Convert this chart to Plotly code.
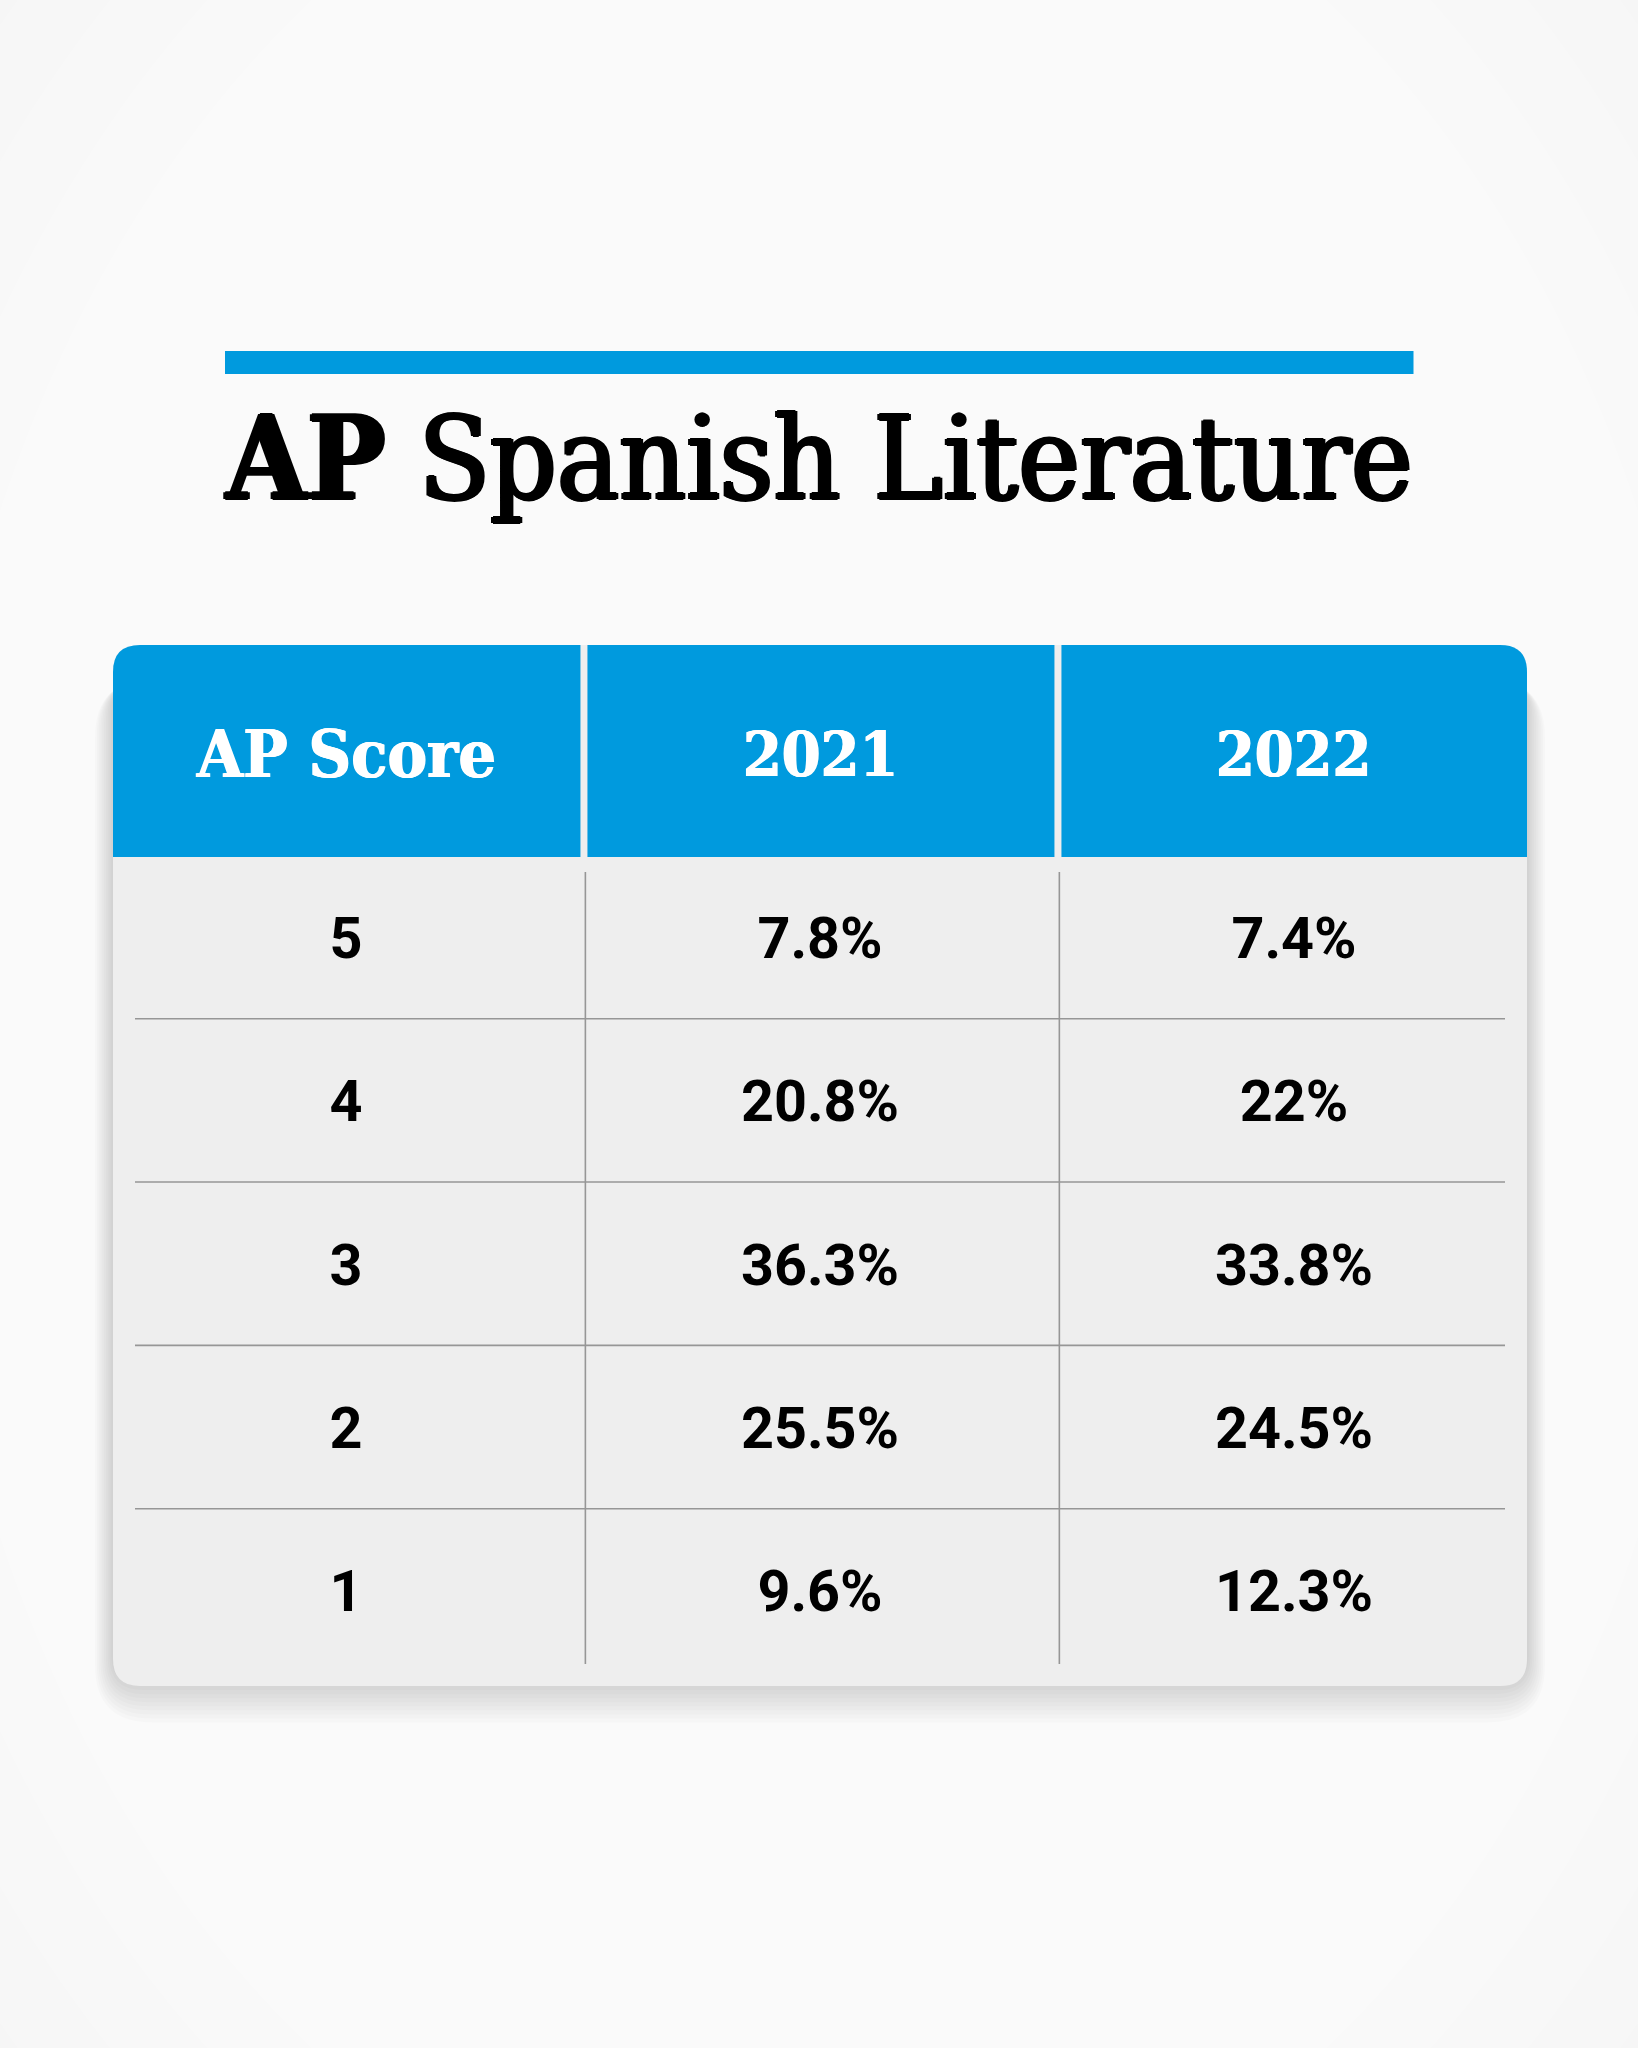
import plotly.graph_objects as go

W = 1638
H = 2048

columns = ['AP Score', '2021', '2022']
scores = ['5', '4', '3', '2', '1']
pct_2021 = ['7.8%', '20.8%', '36.3%', '25.5%', '9.6%']
pct_2022 = ['7.4%', '22%', '33.8%', '24.5%', '12.3%']

BLUE = '#009ade'
CARD = '#eeeeee'
LINE = '#969696'
SLAB = "'DejaVu Serif Condensed', 'DejaVu Serif', serif"


def px(x):
    return x / W


def py(y):
    return 1 - y / H


def rounded(x0, y0, x1, y1, r, top=True, bottom=True):
    # svg path in paper coords, corners as quadratic curves
    rx, ry = r / W, r / H
    X0, X1 = px(x0), px(x1)
    Y0, Y1 = py(y0), py(y1)
    path = f'M {X0} {Y0 - ry if top else Y0} '
    path += f'Q {X0} {Y0} {X0 + rx} {Y0} L {X1 - rx} {Y0} Q {X1} {Y0} {X1} {Y0 - ry} ' if top else f'L {X1} {Y0} '
    path += f'L {X1} {Y1 + ry if bottom else Y1} '
    path += f'Q {X1} {Y1} {X1 - rx} {Y1} L {X0 + rx} {Y1} Q {X0} {Y1} {X0} {Y1 + ry} ' if bottom else f'L {X0} {Y1} '
    return path + 'Z'


shapes = []

# pale vignette, white toward the middle of the page
for grow in range(0, 11):
    rx = 1180 - grow * 70
    ry = 1560 - grow * 80
    shapes.append(dict(type='circle', xref='paper', yref='paper', layer='below',
                       x0=px(819 - rx), x1=px(819 + rx), y0=py(1024 + ry), y1=py(1024 - ry),
                       fillcolor='rgba(255,255,255,0.16)', line_width=0))

# soft shadow under the card
for grow in range(30, 0, -3):
    shapes.append(dict(type='path', xref='paper', yref='paper', layer='below',
                       path=rounded(113 - grow * 0.6, 680, 1527 + grow * 0.6, 1682 + grow * 1.35, 27 + grow),
                       fillcolor='rgba(0,0,0,0.015)', line_width=0))

shapes.append(dict(type='path', xref='paper', yref='paper', layer='below',
                   path=rounded(113, 645, 1527, 1686, 27), fillcolor=CARD, line_width=0))
shapes.append(dict(type='path', xref='paper', yref='paper', layer='below',
                   path=rounded(113, 645, 1527, 857, 27, bottom=False), fillcolor=BLUE, line_width=0))
# bar above the title
shapes.append(dict(type='rect', xref='paper', yref='paper', layer='below',
                   x0=px(225), x1=px(1413.5), y0=py(351), y1=py(374), fillcolor=BLUE, line_width=0))

# header separators and column rules
for i in range(len(columns) - 1):
    shapes.append(dict(type='line', xref='x', yref='paper', x0=i + 0.502, x1=i + 0.502, y0=py(645), y1=py(857),
                       line=dict(color=CARD, width=7), layer='below'))
    shapes.append(dict(type='line', xref='x', yref='paper', x0=i + 0.505, x1=i + 0.505, y0=py(872), y1=py(1664),
                       line=dict(color=LINE, width=1.6), layer='below'))

# row rules
for i in range(len(scores) - 1):
    shapes.append(dict(type='line', xref='paper', yref='y', x0=px(135), x1=px(1505), y0=i + 0.46, y1=i + 0.46,
                       line=dict(color=LINE, width=1.6), layer='below'))

fig = go.Figure()
for col, vals in zip(columns, [scores, pct_2021, pct_2022]):
    fig.add_trace(go.Scatter(x=[col] * len(scores), y=scores, text=vals, mode='text',
                             textposition='middle center', showlegend=False,
                             textfont=dict(family='Roboto', size=57.5, color='#000000', weight=700)))

annotations = [
    dict(text='<b>AP</b> Spanish Literature', xref='paper', yref='paper', x=px(819), y=py(458),
         showarrow=False, xanchor='center', yanchor='middle',
         font=dict(family=SLAB, size=116, color='#000000',
                   shadow='2px 0 0 #000, -2px 0 0 #000, 0 1px 0 #000, 0 -1px 0 #000')),
]
for i, col in enumerate(columns):
    annotations.append(dict(text=f'<b>{col}</b>', xref='x', yref='paper', x=i, y=py(754), showarrow=False,
                            xanchor='center', yanchor='middle',
                            font=dict(family=SLAB, size=66 if i == 0 else 62, color='#ffffff',
                                      shadow='0.7px 0 0 #fff, -0.7px 0 0 #fff')))

fig.update_layout(
    width=W, height=H, margin=dict(l=0, r=0, t=0, b=0, pad=0),
    paper_bgcolor='#f5f5f5', plot_bgcolor='rgba(0,0,0,0)',
    shapes=shapes, annotations=annotations,
    xaxis=dict(type='category', categoryorder='array', categoryarray=columns, range=[-0.4916, 2.4916],
               domain=[px(113), px(1527)], visible=False, fixedrange=True),
    yaxis=dict(type='category', categoryorder='array', categoryarray=scores, range=[4.545, -0.53],
               domain=[py(1686), py(857)], visible=False, fixedrange=True),
)

fig.write_html("out.html", config=dict(displayModeBar=False),
               post_script="document.body.style.margin = '0';")
